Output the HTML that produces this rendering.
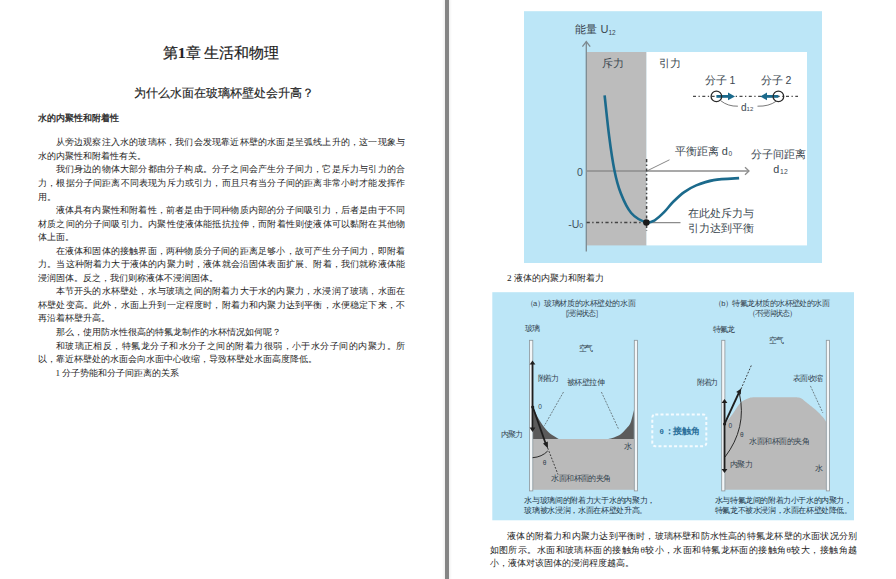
<!DOCTYPE html>
<html><head><meta charset="utf-8">
<style>
html,body{margin:0;padding:0;background:#fff;width:896px;height:579px;overflow:hidden;position:relative}
.t{position:absolute;font-family:"Liberation Serif",serif;font-size:9.17px;line-height:13px;color:#1e1e1e;white-space:nowrap}
.L{left:38px;width:367px}
.R{left:489.6px;width:367.4px}
.j{text-align:justify;text-align-last:justify;white-space:nowrap}
.i{text-indent:17.6px}
.s{position:absolute;font-family:"Liberation Sans",sans-serif;white-space:nowrap}
#sep{position:absolute;left:445px;top:0;width:4px;height:579px;background:#858585;box-shadow:0 0 3px 1px rgba(0,0,0,0.08)}
</style></head><body>
<div id="sep"></div>

<div class="t" style="left:163px;top:44.8px;font-size:15px;line-height:16px;-webkit-text-stroke:0.2px #1e1e1e">第<b>1</b>章 生活和物理</div>
<div class="t" style="left:133.5px;top:85.5px;font-size:12px;line-height:14px;-webkit-text-stroke:0.15px #1e1e1e">为什么水面在玻璃杯壁处会升高？</div>
<div class="s" style="left:37.6px;top:112.5px;font-size:9px;line-height:10px;-webkit-text-stroke:0.3px #222;color:#222">水的内聚性和附着性</div>

<div class="t L j i" style="top:136.3px">从旁边观察注入水的玻璃杯，我们会发现靠近杯壁的水面是呈弧线上升的，这一现象与</div>
<div class="t L" style="top:149.85px">水的内聚性和附着性有关。</div>
<div class="t L j i" style="top:163.4px">我们身边的物体大部分都由分子构成。分子之间会产生分子间力，它是斥力与引力的合</div>
<div class="t L j" style="top:176.95px">力，根据分子间距离不同表现为斥力或引力，而且只有当分子间的距离非常小时才能发挥作</div>
<div class="t L" style="top:190.5px">用。</div>
<div class="t L j i" style="top:204.05px">液体具有内聚性和附着性，前者是由于同种物质内部的分子间吸引力，后者是由于不同</div>
<div class="t L j" style="top:217.6px">材质之间的分子间吸引力。内聚性使液体能抵抗拉伸，而附着性则使液体可以黏附在其他物</div>
<div class="t L" style="top:231.15px">体上面。</div>
<div class="t L j i" style="top:244.7px">在液体和固体的接触界面，两种物质分子间的距离足够小，故可产生分子间力，即附着</div>
<div class="t L j" style="top:258.25px">力。当这种附着力大于液体的内聚力时，液体就会沿固体表面扩展、附着，我们就称液体能</div>
<div class="t L" style="top:271.8px">浸润固体。反之，我们则称液体不浸润固体。</div>
<div class="t L j i" style="top:285.35px">本节开头的水杯壁处，水与玻璃之间的附着力大于水的内聚力，水浸润了玻璃，水面在</div>
<div class="t L j" style="top:298.9px">杯壁处变高。此外，水面上升到一定程度时，附着力和内聚力达到平衡，水便稳定下来，不</div>
<div class="t L" style="top:312.45px">再沿着杯壁升高。</div>
<div class="t L i" style="top:326px">那么，使用防水性很高的特氟龙制作的水杯情况如何呢？</div>
<div class="t L j i" style="top:339.55px">和玻璃正相反，特氟龙分子和水分子之间的附着力很弱，小于水分子间的内聚力。所</div>
<div class="t L" style="top:353.1px">以，靠近杯壁处的水面会向水面中心收缩，导致杯壁处水面高度降低。</div>
<div class="t L i" style="top:366.65px">1 分子势能和分子间距离的关系</div>

<div class="t" style="left:507.1px;top:272.3px">2 液体的内聚力和附着力</div>
<div class="t R j i" style="top:530.3px">液体的附着力和内聚力达到平衡时，玻璃杯壁和防水性高的特氟龙杯壁的水面状况分别</div>
<div class="t R j" style="top:543.85px">如图所示。水面和玻璃杯面的接触角θ较小，水面和特氟龙杯面的接触角θ较大，接触角越</div>
<div class="t R" style="top:557.4px">小，液体对该固体的浸润程度越高。</div>

<svg style="position:absolute;left:0;top:0" width="896" height="579" font-family="Liberation Sans, sans-serif">
<rect x="524" y="11.2" width="298" height="251.8" fill="#bce6f7"/>
<rect x="586.5" y="52" width="60" height="193.4" fill="#bcbcbc"/>
<rect x="646.5" y="52" width="160.5" height="193.4" fill="#ffffff"/>
<g stroke="#7d8990" stroke-width="1.3" fill="none">
<line x1="586.3" y1="41.8" x2="586.3" y2="251.5"/>
<polyline points="582.4,46.6 586.3,41.6 590.2,46.6"/>
</g>
<g stroke="#8c8c8c" stroke-width="1.3" fill="none">
<line x1="586.3" y1="171" x2="749" y2="171"/>
<polyline points="745,167.2 749,171 745,174.8"/>
<line x1="646.5" y1="222.6" x2="680.5" y2="222.6"/>
</g>
<g stroke="#444" stroke-width="1.5" fill="none" stroke-dasharray="3.2 2.4 1.4 2.4">
<line x1="646.6" y1="159" x2="646.6" y2="231"/>
<line x1="586.6" y1="222.6" x2="646" y2="222.6"/>
</g>
<line x1="647.4" y1="170.7" x2="669.5" y2="159.8" stroke="#555" stroke-width="0.7"/>
<path d="M604.6,95.3 C605.4,102.2 607.6,124.2 609.2,136.7 C610.8,149.2 612.5,160.8 614.4,170.3 C616.3,179.8 618.1,186.5 620.9,193.6 C623.7,200.7 627.0,208.2 631.2,213.0 C635.4,217.8 642.3,221.1 646.2,222.3 C650.1,223.5 651.7,222.0 654.7,220.3 C657.7,218.6 661.0,215.3 664.1,212.2 C667.2,209.1 670.1,204.8 673.5,201.5 C676.9,198.2 680.4,194.8 684.2,192.1 C688.0,189.4 691.3,187.4 696.2,185.4 C701.1,183.4 706.6,181.3 713.7,180.1 C720.9,178.9 734.9,178.4 739.1,178.1" stroke="#1b6a8c" stroke-width="2.6" fill="none" stroke-linecap="butt"/>
<circle cx="646.4" cy="222.5" r="3.3" fill="#1a1a1a"/>
<g fill="#3b4750">
<text x="575.4" y="32.6" font-size="11">能量 U<tspan font-size="6.5" dy="2.5">12</tspan></text>
<text x="602.1" y="66.8" font-size="11">斥力</text>
<text x="658.6" y="66.8" font-size="11">引力</text>
<text x="704.7" y="84.2" font-size="10.5">分子 1</text>
<text x="760.6" y="84.2" font-size="10.5">分子 2</text>
<text x="674.8" y="154.8" font-size="10.9">平衡距离 d<tspan font-size="6.5" dx="0.6" dy="1.5">0</tspan></text>
<text x="750.6" y="157.8" font-size="11">分子间距离</text>
<text x="773.3" y="173.4" font-size="10.8">d<tspan font-size="6.8" dx="0.8" dy="1">12</tspan></text>
<text x="688.2" y="216.6" font-size="11">在此处斥力与</text>
<text x="688.2" y="232" font-size="11">引力达到平衡</text>
</g>
<g fill="#3f525e">
<text x="577" y="175.6" font-size="10.5">0</text>
<text x="568.2" y="227.5" font-size="10.5">-U<tspan font-size="7">0</tspan></text>
</g>
<g stroke="#4a4a4a" stroke-width="1.2" fill="none" stroke-dasharray="3 2.5 1.3 2.5">
<line x1="693" y1="96.4" x2="798" y2="96.4"/>
</g>
<g stroke="#555" stroke-width="0.8" fill="none">
<path d="M720.7,100.7 Q728,106.5 737.9,106.2"/>
<path d="M757.5,106.2 Q769,106.5 776,101.3"/>
</g>
<g fill="#1b6a8c" stroke="#1b6a8c">
<line x1="716.4" y1="96.4" x2="729" y2="96.4" stroke-width="2.8"/>
<polygon points="728,92.6 735,96.4 728,100.2" stroke="none"/>
<line x1="778.4" y1="96.4" x2="766" y2="96.4" stroke-width="2.8"/>
<polygon points="767,92.6 760.2,96.4 767,100.2" stroke="none"/>
</g>
<g stroke="#2a2a2a" stroke-width="1.3" fill="none">
<circle cx="716.4" cy="96.4" r="5.3"/>
<circle cx="778.4" cy="96.4" r="5.3"/>
</g>
<text x="741" y="110.5" font-size="10" fill="#3b4750">d<tspan font-size="6" dy="0.5">12</tspan></text>
</svg>
<svg style="position:absolute;left:0;top:0" width="896" height="579" font-family="Liberation Sans, sans-serif">
<rect x="492.3" y="292.2" width="361.7" height="228.1" fill="#bce6f7"/>
<!-- panel a water -->
<rect x="532.8" y="439" width="101.5" height="50.8" fill="#bababa"/>
<path d="M532.8,406.6 C533.2,407.5 534.1,410.1 535.0,412.0 C535.9,413.9 536.5,415.1 538.0,417.7 C539.5,420.2 542.2,424.7 544.2,427.3 C546.2,429.9 547.6,431.6 550.0,433.5 C552.4,435.4 557.2,438.1 558.7,439.0 L532.8,439 Z" fill="#5b5b5b"/>
<path d="M633.9,410.0 C633.6,411.3 632.7,415.6 632.0,418.0 C631.3,420.4 630.9,422.6 629.7,424.6 C628.5,426.6 626.5,428.4 625.0,430.0 C623.5,431.6 622.5,432.9 620.7,434.2 C618.9,435.4 616.1,436.7 614.0,437.5 C611.9,438.3 609.2,438.8 608.3,439.0 L633.9,439 Z" fill="#5b5b5b"/>
<!-- panel b water -->
<path d="M724.9,424.0 C726.2,422.3 730.4,417.1 732.8,413.8 C735.1,410.6 737.1,406.8 739.0,404.5 C740.9,402.2 742.3,401.3 744.0,400.2 C745.7,399.1 747.6,398.4 749.3,397.9 C751.0,397.4 753.2,397.4 754.0,397.3 L796.9,397.3 C797.6,397.5 799.6,397.6 801.0,398.3 C802.4,399.0 802.8,399.5 805.2,401.4 C807.6,403.3 812.7,407.1 815.6,409.7 C818.5,412.3 821.0,414.9 822.8,417.0 C824.6,419.1 825.7,421.2 826.3,422.1 L826.3,489.8 L724.9,489.8 Z" fill="#bababa"/>
<!-- walls -->
<g fill="#f2f6f8" stroke="#8d969b" stroke-width="0.8">
<rect x="529.6" y="340.3" width="3.2" height="150.6"/>
<rect x="634.3" y="340.3" width="3.2" height="150.6"/>
<rect x="721.7" y="340.3" width="3.2" height="150.6"/>
<rect x="826.3" y="340.3" width="3.2" height="150.6"/>
</g>
<!-- dotted box -->
<rect x="652.3" y="414.4" width="54" height="31.8" rx="3" fill="none" stroke="#f4fbff" stroke-width="2" stroke-dasharray="3 2.2"/>
<!-- leaders -->
<g stroke="#3a3a3a" stroke-width="0.6" fill="none" stroke-dasharray="2 1.2">
<line x1="563.5" y1="392" x2="544.2" y2="426"/>
<line x1="601.4" y1="392" x2="618.7" y2="429.4"/>
<line x1="810.4" y1="385.9" x2="822.8" y2="412.8"/>
</g>
<g stroke="#2a2a2a" stroke-width="0.9" fill="none" stroke-dasharray="1.8 1.6">
<line x1="547.7" y1="448" x2="558" y2="474.5"/>
<line x1="741" y1="389" x2="751.4" y2="365.2"/>
</g>
<!-- arcs -->
<g stroke="#2a2a2a" stroke-width="1" fill="none">
<path d="M532.6,457.7 Q542,457 547.7,451"/>
<path d="M739.5,394 Q747,428 725,457"/>
</g>
<!-- arrows a -->
<g stroke="#1e1e1e" stroke-width="1.8" fill="none">
<line x1="532.5" y1="364" x2="532.5" y2="407"/>
<line x1="532.5" y1="407" x2="532.5" y2="428"/>
<line x1="532.8" y1="407" x2="545.8" y2="444"/>
<line x1="724.5" y1="402.5" x2="724.5" y2="469.5"/>
<line x1="724.5" y1="424" x2="739" y2="392.5"/>
</g>
<g fill="#1e1e1e">
<polygon points="529.6,364.5 532.5,360.5 535.4,364.5"/>
<polygon points="529.6,427.5 532.5,432 535.4,427.5"/>
<polygon points="543,443.5 548,448.5 547.8,441.5"/>
<circle cx="532.7" cy="407" r="1.6"/>
<polygon points="721.6,403 724.5,399 727.4,403"/>
<polygon points="721.6,469 724.5,473 727.4,469"/>
<polygon points="736.2,392 741.2,388.5 740.8,394.5"/>
<circle cx="724.6" cy="424" r="1.6"/>
</g>
<g fill="#33434f" font-size="7.5">
<text x="525.5" y="306" textLength="110">（a）玻璃材质的水杯壁处的水面</text>
<text x="560.5" y="315.8" textLength="42">［浸润状态］</text>
<text x="713.8" y="306" textLength="116">（b）特氟龙材质的水杯壁处的水面</text>
<text x="747.7" y="315.8" textLength="49">（不浸润状态）</text>
<text x="525.3" y="331.4" textLength="15">玻璃</text>
<text x="579" y="350.6" textLength="14">空气</text>
<text x="537.5" y="380.8" textLength="21.5">附着力</text>
<text x="566.5" y="384.6" textLength="38.5">被杯壁拉伸</text>
<text x="500.5" y="436.6" textLength="22.5">内聚力</text>
<text x="624" y="448.8">水</text>
<text x="551.3" y="480.6" textLength="60">水面和杯面的夹角</text>
<text x="713.1" y="331.8" textLength="22">特氟龙</text>
<text x="768.5" y="343.4" textLength="15.5">空气</text>
<text x="696.8" y="384.6" textLength="21.5">附着力</text>
<text x="792.5" y="380.6" textLength="30.5">表面收缩</text>
<text x="749" y="444" textLength="61">水面和杯面的夹角</text>
<text x="730" y="467.4" textLength="22.5">内聚力</text>
<text x="815.3" y="470.8">水</text>
<text x="538.3" y="408.5" font-size="6.5">0</text>
<text x="542.8" y="465.3" font-size="6.5">θ</text>
<text x="728.6" y="428.3" font-size="6.5">0</text>
<text x="740" y="437" font-size="6.5">θ</text>
</g>
<g fill="#22364a" font-size="7.6">
<text x="524.3" y="503.4" textLength="131">水与玻璃间的附着力大于水的内聚力，</text>
<text x="524.3" y="512.8" textLength="123">玻璃被水浸润，水面在杯壁处升高。</text>
<text x="714.9" y="503.2" textLength="137">水与特氟龙间的附着力小于水的内聚力，</text>
<text x="714.9" y="512.6" textLength="137">特氟龙不被水浸润，水面在杯壁处降低。</text>
</g>
<text y="433.8" font-size="8.7" font-weight="bold" fill="#2a6f9a"><tspan x="659.5" font-size="8">θ</tspan><tspan x="664.5">：</tspan><tspan x="673">接触角</tspan></text>
</svg>
</body></html>
